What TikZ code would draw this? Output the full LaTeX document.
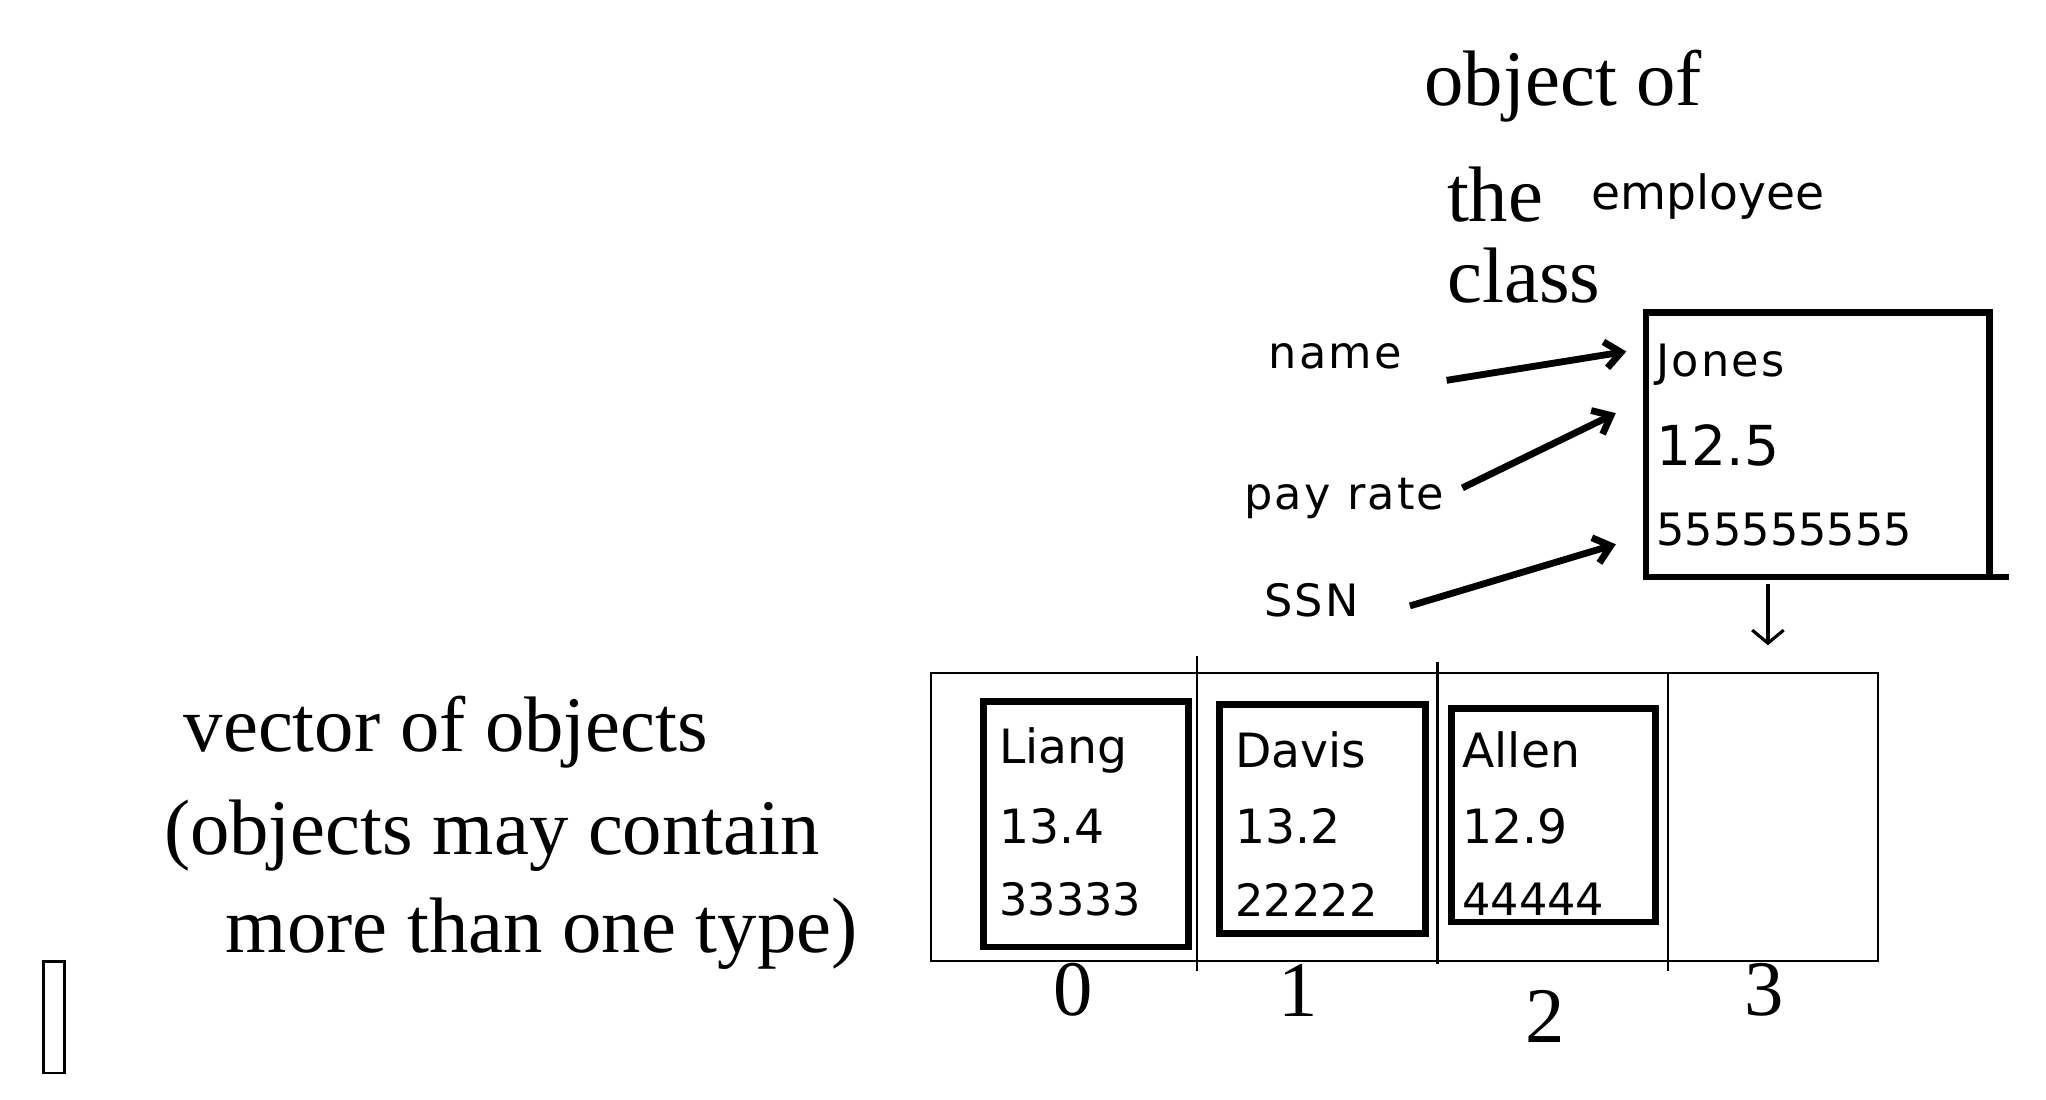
\documentclass[tikz,border=0pt]{standalone}
\usepackage{fontspec}
\setmainfont{Liberation Serif}
\newfontfamily\hand{DejaVu Sans}[Scale=1]
\usetikzlibrary{arrows.meta}
\begin{document}
\begin{tikzpicture}[x=0.5pt,y=-0.5pt,
  serif/.style={font=\fontsize{30}{32}\selectfont},
  hw/.style={font=\hand\fontsize{17}{20}\selectfont\addfontfeature{LetterSpace=5}},
  bx/.style={draw,line width=2.6pt},
  thin/.style={draw,line width=0.8pt},
  arr/.style={line width=2.6pt,-{Straight Barb[length=6pt,width=10pt]}}]
\useasboundingbox (0,0) rectangle (1560,838);
% title
\node[serif] (t1) at (1192,66) {object of};
\node[serif] (t2) at (1140,148) {the};
\node[hw,font=\hand\fontsize{18}{20}\selectfont] (t3) at (1302,150) {employee};
\node[serif] (t4) at (1162,210) {class};
% labels
\node[hw] (lname) at (1018,272) {name};
\node[hw] (lpay) at (1025,380) {pay rate};
\node[hw] (lssn) at (1000,458) {SSN};
% employee box
\draw[bx] (1255,238) rectangle (1517,440);
\draw[bx] (1517,440) -- (1532,440);
\node[hw,anchor=west] (j1) at (1256,278) {Jones};
\node[hw,anchor=west,font=\hand\fontsize{21}{24}\selectfont] (j2) at (1256,340) {12.5};
\node[hw,anchor=west,font=\hand\fontsize{17}{20}\selectfont] (j3) at (1256,404) {555555555};
\coordinate (a1s) at (1103,290); \coordinate (a1e) at (1240,268);
\coordinate (a2s) at (1115,372); \coordinate (a2e) at (1232,315);
\coordinate (a3s) at (1075,462); \coordinate (a3e) at (1232,415);
\draw[arr] (a1s) -- (a1e);
\draw[arr] (a2s) -- (a2e);
\draw[arr] (a3s) -- (a3e);
\coordinate (d1) at (1348,445); \coordinate (d2) at (1348,492);
\draw[line width=1.2pt,-{Straight Barb[length=5pt,width=12pt]}] (d1) -- (d2);
% vector
\draw[thin] (710,513) rectangle (1432,733);
\draw[thin] (913,500) -- (913,740);
\draw[thin] (1096,505) -- (1096,735);
\draw[thin] (1272,513) -- (1272,740);
\draw[bx] (750,535) rectangle (906,722);
\draw[bx] (930,537) rectangle (1087,712);
\draw[bx] (1107,540) rectangle (1262,703);
\foreach \x/\a/\b/\c/\n in {755/Liang/13.4/33333/0,935/Davis/13.2/22222/1,1108/Allen/12.9/44444/2}{
  \node[hw,anchor=west,font=\hand\fontsize{18}{20}\selectfont] (n\n a) at (\x,572) {\a};
  \node[hw,anchor=west,font=\hand\fontsize{18}{20}\selectfont] (n\n b) at (\x,630) {\b};
  \node[hw,anchor=west,font=\hand\fontsize{17}{20}\selectfont] (n\n c) at (\x,686) {\c};
}
\node[serif] (i0) at (818,755) {0};
\node[serif] (i1) at (990,755) {1};
\node[serif] (i2) at (1178,775) {2};
\node[serif] (i3) at (1345,755) {3};
% left text
\node[serif] (v1) at (340,558) {vector of objects};
\node[serif] (v2) at (375,637) {(objects may contain};
\node[serif] (v3) at (413,712) {more than one type)};
\draw[line width=1pt] (33,733) rectangle (49,818);
\end{tikzpicture}
\end{document}
